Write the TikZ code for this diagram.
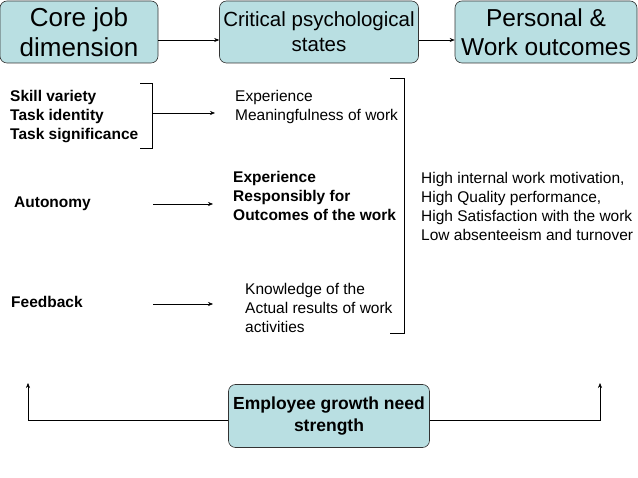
\documentclass[tikz,border=0pt]{standalone}
\usepackage{fontspec}
\setmainfont{Liberation Sans}
\usetikzlibrary{arrows.meta}
\definecolor{boxc}{HTML}{B9DFE2}
\begin{document}
\begin{tikzpicture}[x=1pt,y=-1pt,
  hbox/.style={draw=black!80,fill=boxc,rounded corners=7pt,line width=0.6pt,align=center},
  arr/.style={-{Stealth[length=5pt,width=4pt]},line width=0.5pt},
  txt/.style={align=left,anchor=west,font=\fontsize{15.5}{19}\selectfont,inner sep=0pt},
  btxt/.style={txt,font=\fontsize{15.5}{19}\selectfont\bfseries}]
\useasboundingbox (0,0) rectangle (638,478);
\node[hbox,minimum width=158,minimum height=62,font=\fontsize{26}{30}\selectfont,inner sep=0] (core) at (79,32) {Core job\\dimension};
\node[hbox,minimum width=199,minimum height=62,font=\fontsize{20.5}{25}\selectfont,inner sep=0] (crit) at (319,32) {Critical psychological\\states};
\node[hbox,minimum width=182,minimum height=62,font=\fontsize{24.5}{29}\selectfont,inner sep=0] (pers) at (546,32) {Personal \&\\Work outcomes};
\draw[arr] (core.east|-0,40) -- (crit.west|-0,40);
\draw[arr] (crit.east|-0,40) -- (pers.west|-0,40);
\node[btxt] (skill) at (10,117) {Skill variety\\Task identity\\Task significance};
\node[btxt] (auto) at (14,204) {Autonomy};
\node[btxt] (feed) at (11,302) {Feedback};
\node[txt] (mean) at (235,107) {Experience\\Meaningfulness of work};
\node[btxt] (resp) at (233,196) {Experience\\Responsibly for\\Outcomes of the work};
\node[txt] (know) at (245,308) {Knowledge of the\\Actual results of work\\activities};
\node[txt] (out) at (421,206) {High internal work motivation,\\High Quality performance,\\High Satisfaction with the work\\Low absenteeism and turnover};
\coordinate (b1) at (152,113);
\draw[line width=0.5pt] (140,83) -- (152,83) -- (152,148) -- (140,148);
\draw[arr] (b1) -- (215,113);
\draw[line width=0.5pt] (390,78) -- (404,78) -- (404,333) -- (390,333);
\coordinate (a1) at (153,204); \coordinate (a2) at (213,204);
\draw[arr] (a1) -- (a2);
\coordinate (f1) at (153,304); \coordinate (f2) at (213,304);
\draw[arr] (f1) -- (f2);
\node[hbox,minimum width=201,minimum height=63,font=\fontsize{17.5}{22}\selectfont\bfseries,inner sep=0] (emp) at (329,416) {Employee growth need\\strength};
\coordinate (l1) at (28,383); \coordinate (r1) at (600,383);
\draw[arr] (emp.west|-0,420) -| (l1);
\draw[arr] (emp.east|-0,420) -| (r1);
\end{tikzpicture}
\end{document}
